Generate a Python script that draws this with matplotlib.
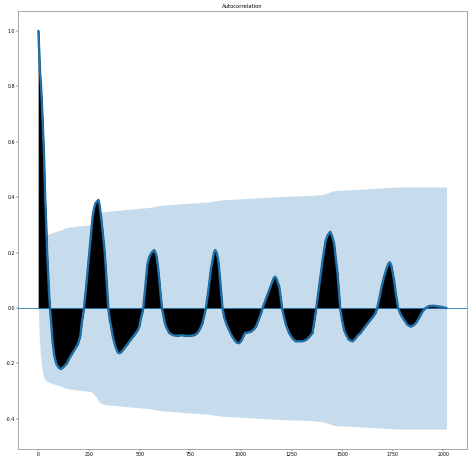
import numpy as np
import matplotlib
matplotlib.use("Agg")
import matplotlib.pyplot as plt

# autocorrelation (lag, value)
lags = [0, 1, 2, 3, 5, 8, 13, 20, 25, 28, 33, 38, 43, 48, 52, 57,
        63, 70, 78, 88, 100, 110, 120, 140, 150, 170, 195, 207, 213, 219, 225,
        235, 245, 252, 260, 268, 275, 282, 290, 296, 302, 309, 318, 326, 332, 338, 345,
        352, 360, 367, 375, 383, 392, 400, 410, 424, 440, 455, 474, 490, 498, 505, 512, 518,
        526, 532, 539, 548, 556, 566, 572, 578, 584, 590, 597, 603, 610,
        618, 625, 632, 646, 665, 687, 705, 729, 750, 770, 785, 798, 810, 819, 827,
        835, 844, 852, 860, 867, 873, 880, 886, 890, 896, 901, 909,
        918, 930, 942, 955, 968, 980, 990, 1000, 1010, 1020, 1035, 1049, 1062, 1074, 1086, 1099, 1107,
        1120, 1130, 1140, 1152, 1162, 1169, 1176, 1183, 1189, 1196, 1203,
        1212, 1222, 1238, 1255, 1271, 1288, 1304, 1321, 1337, 1353, 1362, 1372,
        1385, 1395, 1405, 1419, 1430, 1441, 1450, 1460, 1468, 1477, 1484, 1490,
        1500, 1510, 1522, 1534, 1551, 1563, 1575, 1590, 1600, 1615, 1633, 1648, 1663, 1673,
        1685, 1696, 1707, 1718, 1728, 1735, 1742, 1750, 1756, 1765, 1776,
        1790, 1806, 1822, 1838, 1850, 1863, 1880, 1896, 1912, 1929, 1950, 1970, 1990, 2005, 2015]
acf = [1.0, 0.98, 0.96, 0.94, 0.90, 0.85, 0.80, 0.69, 0.60, 0.54, 0.40, 0.31, 0.20, 0.12, 0.06, 0.0,
       -0.05, -0.12, -0.17, -0.20, -0.215, -0.22, -0.215, -0.20, -0.185, -0.16, -0.13, -0.10, -0.06, -0.03, 0.0,
       0.07, 0.15, 0.21, 0.27, 0.33, 0.36, 0.378, 0.385, 0.39, 0.372, 0.33, 0.27, 0.21, 0.15, 0.08, 0.0,
       -0.04, -0.07, -0.10, -0.125, -0.145, -0.16, -0.163, -0.158, -0.145, -0.13, -0.115, -0.097, -0.08, -0.067, -0.04, -0.02, 0.0,
       0.06, 0.11, 0.16, 0.185, 0.197, 0.205, 0.209, 0.20, 0.185, 0.15, 0.10, 0.05, 0.0,
       -0.03, -0.055, -0.07, -0.09, -0.098, -0.10, -0.098, -0.10, -0.10, -0.098, -0.09, -0.075, -0.055, -0.025, 0.0,
       0.04, 0.09, 0.14, 0.173, 0.20, 0.209, 0.20, 0.18, 0.16, 0.11, 0.065, 0.0,
       -0.035, -0.06, -0.08, -0.10, -0.115, -0.125, -0.127, -0.12, -0.105, -0.09, -0.088, -0.085, -0.078, -0.067, -0.045, -0.02, 0.0,
       0.025, 0.045, 0.065, 0.09, 0.108, 0.113, 0.105, 0.09, 0.077, 0.04, 0.0,
       -0.03, -0.06, -0.09, -0.11, -0.12, -0.12, -0.12, -0.115, -0.105, -0.09, -0.05, 0.0,
       0.07, 0.125, 0.18, 0.245, 0.265, 0.275, 0.26, 0.233, 0.18, 0.125, 0.06, 0.0,
       -0.045, -0.08, -0.10, -0.115, -0.12, -0.112, -0.10, -0.09, -0.08, -0.065, -0.049, -0.035, -0.02, 0.0,
       0.04, 0.08, 0.113, 0.14, 0.16, 0.165, 0.155, 0.125, 0.10, 0.05, 0.0,
       -0.025, -0.043, -0.06, -0.067, -0.063, -0.055, -0.035, -0.013, 0.0, 0.007, 0.008, 0.006, 0.004, 0.001, 0.0]

# half-width of the confidence band
band_lags = [0, 1, 3, 5, 10, 15, 20, 28, 36, 45, 57, 71, 104, 137, 202, 235, 260, 285, 301, 318,
             350, 465, 548, 580, 597, 712, 844, 876, 900, 1041, 1205, 1337, 1403, 1430, 1460,
             1617, 1732, 1781, 2015]
band = [0.0, 0.041, 0.09, 0.117, 0.168, 0.204, 0.231, 0.252, 0.262, 0.266, 0.269, 0.273, 0.28, 0.29,
        0.297, 0.299, 0.302, 0.32, 0.34, 0.347, 0.35, 0.358, 0.363, 0.368, 0.37, 0.377, 0.383, 0.388,
        0.39, 0.396, 0.403, 0.406, 0.41, 0.416, 0.424, 0.43, 0.435, 0.437, 0.437]

x_ticks = [0, 250, 500, 750, 1000, 1250, 1500, 1750, 2000]
y_ticks = [-0.4, -0.2, 0.0, 0.2, 0.4, 0.6, 0.8, 1.0]


def main():
    fig = plt.figure(figsize=(4.74, 4.61), dpi=100)
    ax = fig.add_axes([0.038, 0.026, 0.947, 0.950])

    lag_arr = np.array(lags)
    acf_arr = np.array(acf)
    band_arr = np.array(band)

    # confidence band behind, stems as a solid black area
    ax.fill_between(band_lags, -band_arr, band_arr, color="C0", alpha=0.25, lw=0, zorder=1)
    ax.fill_between(lag_arr, 0, acf_arr, color="black", lw=0.3, zorder=2)
    ax.axhline(0, color="C0", lw=0.6, zorder=3)
    ax.plot(lag_arr, acf_arr, color="#1a5d8f", lw=1.7, solid_capstyle="round",
            solid_joinstyle="round", zorder=4)
    ax.plot(lag_arr, acf_arr, color="C0", lw=0.9, solid_capstyle="round",
            solid_joinstyle="round", zorder=5)

    ax.margins(0.05)
    ax.set_xticks(x_ticks)
    ax.set_yticks(y_ticks)
    ax.set_xticklabels([str(t) for t in x_ticks])
    ax.set_yticklabels([f"{t:.1f}" for t in y_ticks])
    ax.tick_params(labelsize=3.4, length=1.1, width=0.3, pad=1.1)
    for s in ax.spines.values():
        s.set_linewidth(0.6)
        s.set_color("#999999")
    ax.set_title("Autocorrelation", fontsize=3.8, pad=2)

    fig.savefig("out.png", dpi=100)


if __name__ == "__main__":
    main()
